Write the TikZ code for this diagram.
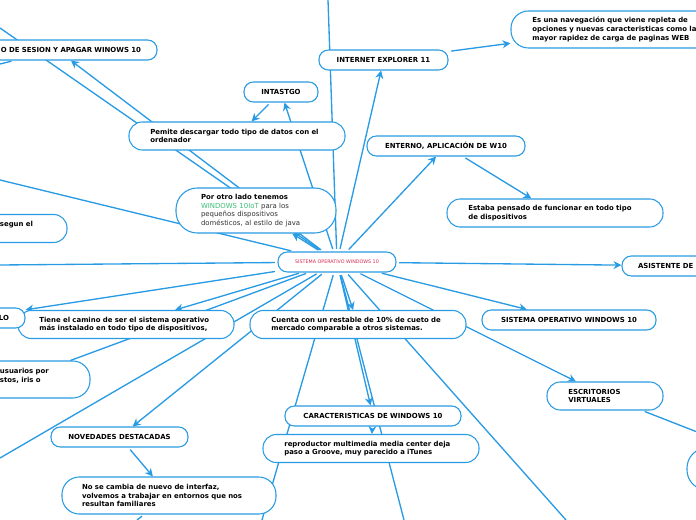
\documentclass[tikz,border=0pt]{standalone}
\usepackage{fontspec}
\usepackage{xcolor}
\usetikzlibrary{arrows.meta,backgrounds}
\setmainfont{DejaVu Sans}
\definecolor{mapblue}{RGB}{41,155,228}
\definecolor{mapred}{RGB}{214,40,80}
\definecolor{mapgreen}{RGB}{60,190,120}
\definecolor{mapgray}{RGB}{50,50,50}

\begin{document}
\begin{tikzpicture}[
  x=0.75pt, y=-0.75pt,
  topic/.style={draw=mapblue, fill=white, line width=0.8pt, rounded corners=7pt, minimum height=15pt, inner ysep=0pt, font=\fontsize{5.2}{6.4}\selectfont\bfseries},
  note/.style={topic, rounded corners=10pt, minimum height=21pt, align=left, inner xsep=16pt, text width=130pt},
  link/.style={mapblue, line width=1pt, shorten <=2pt},
  tip/.style={link, -{Stealth[length=6pt,width=6pt]}}
]
\useasboundingbox (0,0) rectangle (696,520);

\node[topic, minimum width=88.5pt, font=\fontsize{3.6}{4}\selectfont, text=mapred] (main) at (337,262) {SISTEMA OPERATIVO WINDOWS 10};

\node[topic, minimum width=96.75pt] (ie) at (383.5,60) {INTERNET EXPLORER 11};
\node[note, rounded corners=13pt, minimum height=27.75pt, text width=124pt] (web) at (615,29.5) {Es una navegación que viene repleta de\\opciones y nuevas caracteristicas como la\\mayor rapidez de carga de paginas WEB};
\node[topic, minimum width=55.5pt] (intastgo) at (281,92) {INTASTGO};
\node[topic, align=right, inner xsep=12pt, text width=126pt] (sesion) at (57,50) {O DE SESION Y APAGAR WINOWS 10};
\node[note] (descarga) at (237,136) {Pemite descargar todo tipo de datos con el\\ordenador};
\node[note, rounded corners=16pt, minimum height=33.75pt, inner xsep=18.75pt, text width=82.5pt] (iot) at (256,210.5) {Por otro lado tenemos\\{\mdseries\textcolor{mapgreen}{WINDOWS 10IoT} \textcolor{mapgray}{para los\\pequeños dispositivos\\domésticos, al estilo de java}}};
\node[note, align=right, inner xsep=25.5pt, text width=124.5pt] (segun) at (-50,228.5) {segun el\\~};

\node[topic, minimum width=118.5pt] (enterno) at (446,146) {ENTERNO, APLICACIÓN DE W10};
\node[note] (pensado) at (555,213) {Estaba pensado de funcionar en todo tipo\\de dispositivos};
\node[topic, align=left, inner xsep=12pt, text width=93pt] (asistente) at (700,266) {ASISTENTE DE};
\node[topic, minimum width=130.5pt] (sistema) at (569,320) {SISTEMA OPERATIVO WINDOWS 10};

\node[note] (camino) at (126,324.5) {Tiene el camino de ser el sistema operativo\\más instalado en todo tipo de dispositivos,};
\node[topic, align=right, inner xsep=12pt, text width=55.5pt] (lo) at (-28,318) {LO};
\node[note] (cuota) at (358,324.5) {Cuenta con un restable de 10\% de cueto de\\mercado comparable a otros sistemas.};
\node[note, rounded corners=13pt, minimum height=27.75pt, inner xsep=0pt, text width=106.5pt] (usuarios) at (19,379.5) {\hspace*{39pt}usuarios por\\\hspace*{39pt}stos, iris o\\~};

\node[note, inner xsep=16pt, text width=55pt] (virtuales) at (605,396) {ESCRITORIOS\\VIRTUALES};
\node[topic, minimum width=132pt] (caract) at (373,416) {CARACTERISTICAS DE WINDOWS 10};
\node[note] (groove) at (371,448.5) {reproductor multimedia media center deja\\paso a Groove, muy parecido a iTunes};
\node[topic, minimum width=102.75pt] (novedades) at (119.5,437) {NOVEDADES DESTACADAS};
\node[note, rounded corners=13pt, minimum height=27.75pt, inner xsep=15pt, text width=130.5pt] (interfaz) at (169,495.5) {No se cambia de nuevo de interfaz,\\volvemos a trabajar en entornos que nos\\resultan familiares};
\node[topic, rounded corners=15pt, minimum height=31.5pt, minimum width=157.5pt] (oculto) at (792,469) {};

\coordinate (arriba) at (328,0);
\coordinate (izqa) at (0,28);
\coordinate (izqb) at (0,64);
\coordinate (izqc) at (0,180);
\coordinate (izqd) at (0,265);
\coordinate (izqe) at (0,458);
\coordinate (abajoa) at (262,520);
\coordinate (abajob) at (404,520);
\coordinate (abajoc) at (566,520);
\coordinate (abajod) at (137,520);

\begin{scope}[on background layer]
\draw[tip] (main) -- (ie);
\draw[tip] (ie) -- (web);
\draw[link] (main) -- (arriba);
\draw[tip] (main) -- (intastgo);
\draw[tip] (intastgo) -- (descarga);
\draw[link] (main) -- (izqa);
\draw[tip] (main) -- (sesion);
\draw[link] (sesion) -- (izqb);
\draw[tip] (main) -- (iot);
\draw[link] (main) -- (izqc);
\draw[link] (main) -- (izqd);
\draw[tip] (main) -- (enterno);
\draw[tip] (enterno) -- (pensado);
\draw[tip] (main) -- (asistente);
\draw[tip] (main) -- (sistema);
\draw[tip] (main) -- (lo);
\draw[tip] (main) -- (camino);
\draw[link] (main) -- (usuarios);
\draw[link] (main) -- (izqe);
\draw[tip] (main) -- (novedades);
\draw[tip] (novedades) -- (interfaz);
\draw[link] (interfaz) -- (abajod);
\draw[link] (main) -- (abajoa);
\draw[tip] (main) -- (cuota);
\draw[tip] (main) -- (caract);
\draw[tip] (caract) -- (groove);
\draw[link] (main) -- (abajob);
\draw[link] (main) -- (abajoc);
\draw[tip] (main) -- (virtuales);
\draw[link] (virtuales) -- (oculto);
\end{scope}

\end{tikzpicture}
\end{document}
